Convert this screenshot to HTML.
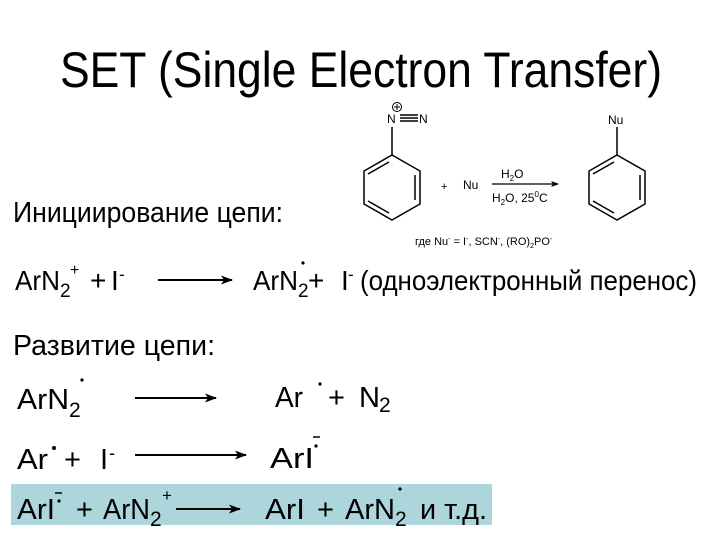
<!DOCTYPE html>
<html><head><meta charset="utf-8"><style>
html,body{margin:0;padding:0;background:#fff;width:720px;height:540px;overflow:hidden}
svg{display:block}
text{font-family:"Liberation Sans",sans-serif;fill:#000}
</style></head><body>
<svg width="720" height="540" viewBox="0 0 720 540" xmlns="http://www.w3.org/2000/svg">
<defs>
<marker id="ah" markerWidth="12" markerHeight="9" refX="11" refY="4.5" orient="auto" markerUnits="userSpaceOnUse">
<path d="M0,0 L12,4.5 L0,9 L3,4.5 Z" fill="#000"/></marker>
<marker id="ahs" markerWidth="8" markerHeight="6" refX="7" refY="3" orient="auto" markerUnits="userSpaceOnUse">
<path d="M0,0 L8,3 L0,6 L2,3 Z" fill="#000"/></marker>
</defs>
<text x="60" y="87" font-size="50" textLength="602" lengthAdjust="spacingAndGlyphs">SET (Single Electron Transfer)</text>

<!-- left benzene -->
<g stroke="#000" stroke-width="1.5" fill="none">
<polygon points="392,155 420,171 420,204 392,220 364,204 364,171"/>
<line x1="415" y1="175" x2="415" y2="200"/>
<line x1="389" y1="162" x2="368" y2="174"/>
<line x1="389" y1="213" x2="368" y2="201"/>
<line x1="392" y1="155" x2="392" y2="127"/>
<line x1="400" y1="115" x2="418" y2="115"/>
<line x1="400" y1="118" x2="418" y2="118"/>
<line x1="400" y1="121" x2="418" y2="121"/>
<circle cx="397" cy="107" r="4.5" stroke-width="1"/>
<line x1="394" y1="107" x2="400" y2="107" stroke-width="1"/>
<line x1="397" y1="104" x2="397" y2="110" stroke-width="1"/>
<polygon points="617,155 645,171 645,204 617,220 589,204 589,171"/>
<line x1="640" y1="175" x2="640" y2="200"/>
<line x1="614" y1="162" x2="593" y2="174"/>
<line x1="614" y1="213" x2="593" y2="201"/>
<line x1="617" y1="155" x2="617" y2="127"/>
<line x1="492" y1="184" x2="558" y2="184" stroke-width="1.2" marker-end="url(#ahs)"/>
</g>
<text x="387" y="123" font-size="12">N</text>
<text x="419" y="123" font-size="12">N</text>
<text x="608" y="124" font-size="12">Nu</text>
<text x="441" y="190" font-size="11">+</text>
<text x="463" y="189" font-size="12">Nu</text>
<text x="501" y="178" font-size="12">H<tspan font-size="8" dy="3">2</tspan><tspan dy="-3">O</tspan></text>
<text x="492" y="202" font-size="12">H<tspan font-size="8" dy="3">2</tspan><tspan dy="-3">O, 25</tspan><tspan font-size="8" dy="-5">0</tspan><tspan dy="5">C</tspan></text>
<text x="415" y="245" font-size="11">где Nu<tspan font-size="7" dy="-4">-</tspan><tspan dy="4"> = I</tspan><tspan font-size="7" dy="-4">-</tspan><tspan dy="4">, SCN</tspan><tspan font-size="7" dy="-4">-</tspan><tspan dy="4">, (RO)</tspan><tspan font-size="7" dy="3">2</tspan><tspan dy="-3">PO</tspan><tspan font-size="7" dy="-4">-</tspan></text>

<text x="13" y="222" font-size="29" textLength="270" lengthAdjust="spacingAndGlyphs">Инициирование цепи:</text>

<!-- Eq1 -->
<text x="15" y="290" font-size="28" textLength="45" lengthAdjust="spacingAndGlyphs">ArN</text>
<text x="60" y="297" font-size="19">2</text>
<text x="70" y="275" font-size="16">+</text>
<text x="90" y="290" font-size="28">+</text>
<text x="111" y="290" font-size="28">I</text>
<text x="119" y="280" font-size="17">-</text>
<line x1="158" y1="280" x2="232" y2="280" stroke="#000" stroke-width="2" marker-end="url(#ah)"/>
<text x="253" y="290" font-size="28" textLength="45" lengthAdjust="spacingAndGlyphs">ArN</text>
<text x="298" y="297" font-size="19">2</text>
<circle cx="303" cy="263" r="1.6"/>
<text x="308" y="290" font-size="28">+</text>
<text x="341" y="290" font-size="28">I</text>
<text x="348" y="280" font-size="17">-</text>
<text x="360" y="290" font-size="28" textLength="337" lengthAdjust="spacingAndGlyphs">(одноэлектронный перенос)</text>

<text x="13" y="355" font-size="29" textLength="202" lengthAdjust="spacingAndGlyphs">Развитие цепи:</text>

<!-- Eq2 -->
<text x="17" y="409" font-size="29" textLength="52" lengthAdjust="spacingAndGlyphs">ArN</text>
<text x="69" y="417" font-size="21">2</text>
<circle cx="82" cy="380" r="1.6"/>
<line x1="135" y1="398" x2="216" y2="398" stroke="#000" stroke-width="2" marker-end="url(#ah)"/>
<text x="275" y="407" font-size="29" textLength="28" lengthAdjust="spacingAndGlyphs">Ar</text>
<circle cx="320" cy="384" r="1.6"/>
<text x="328" y="407" font-size="29">+</text>
<text x="359" y="407" font-size="29">N</text>
<text x="379" y="412" font-size="21">2</text>

<!-- Eq3 -->
<text x="17" y="469" font-size="29" textLength="31" lengthAdjust="spacingAndGlyphs">Ar</text>
<circle cx="54" cy="448" r="2"/>
<text x="64" y="469" font-size="29">+</text>
<text x="100" y="469" font-size="29">I</text>
<text x="109" y="459" font-size="18">-</text>
<line x1="135" y1="455" x2="246" y2="455" stroke="#000" stroke-width="2" marker-end="url(#ah)"/>
<text x="270" y="468" font-size="29" textLength="44" lengthAdjust="spacingAndGlyphs">ArI</text>
<line x1="313" y1="437" x2="320" y2="437" stroke="#000" stroke-width="1.5"/>
<circle cx="316" cy="446" r="1.6"/>

<!-- Eq4 -->
<rect x="11" y="484" width="481" height="41" fill="#acd5dc"/>
<text x="17" y="519" font-size="29" textLength="38" lengthAdjust="spacingAndGlyphs">ArI</text>
<line x1="55" y1="493" x2="62" y2="493" stroke="#000" stroke-width="1.5"/>
<circle cx="59" cy="501" r="1.6"/>
<text x="76" y="519" font-size="29">+</text>
<text x="103" y="519" font-size="29" textLength="47" lengthAdjust="spacingAndGlyphs">ArN</text>
<text x="150" y="526" font-size="21">2</text>
<text x="162" y="501" font-size="17">+</text>
<line x1="176" y1="509" x2="240" y2="509" stroke="#000" stroke-width="2" marker-end="url(#ah)"/>
<text x="265" y="519" font-size="29" textLength="40" lengthAdjust="spacingAndGlyphs">ArI</text>
<text x="317" y="519" font-size="29">+</text>
<text x="345" y="519" font-size="29" textLength="50" lengthAdjust="spacingAndGlyphs">ArN</text>
<text x="395" y="526" font-size="21">2</text>
<circle cx="400" cy="489" r="1.6"/>
<text x="420" y="519" font-size="29" textLength="67" lengthAdjust="spacingAndGlyphs">и т.д.</text>
</svg>
</body></html>
